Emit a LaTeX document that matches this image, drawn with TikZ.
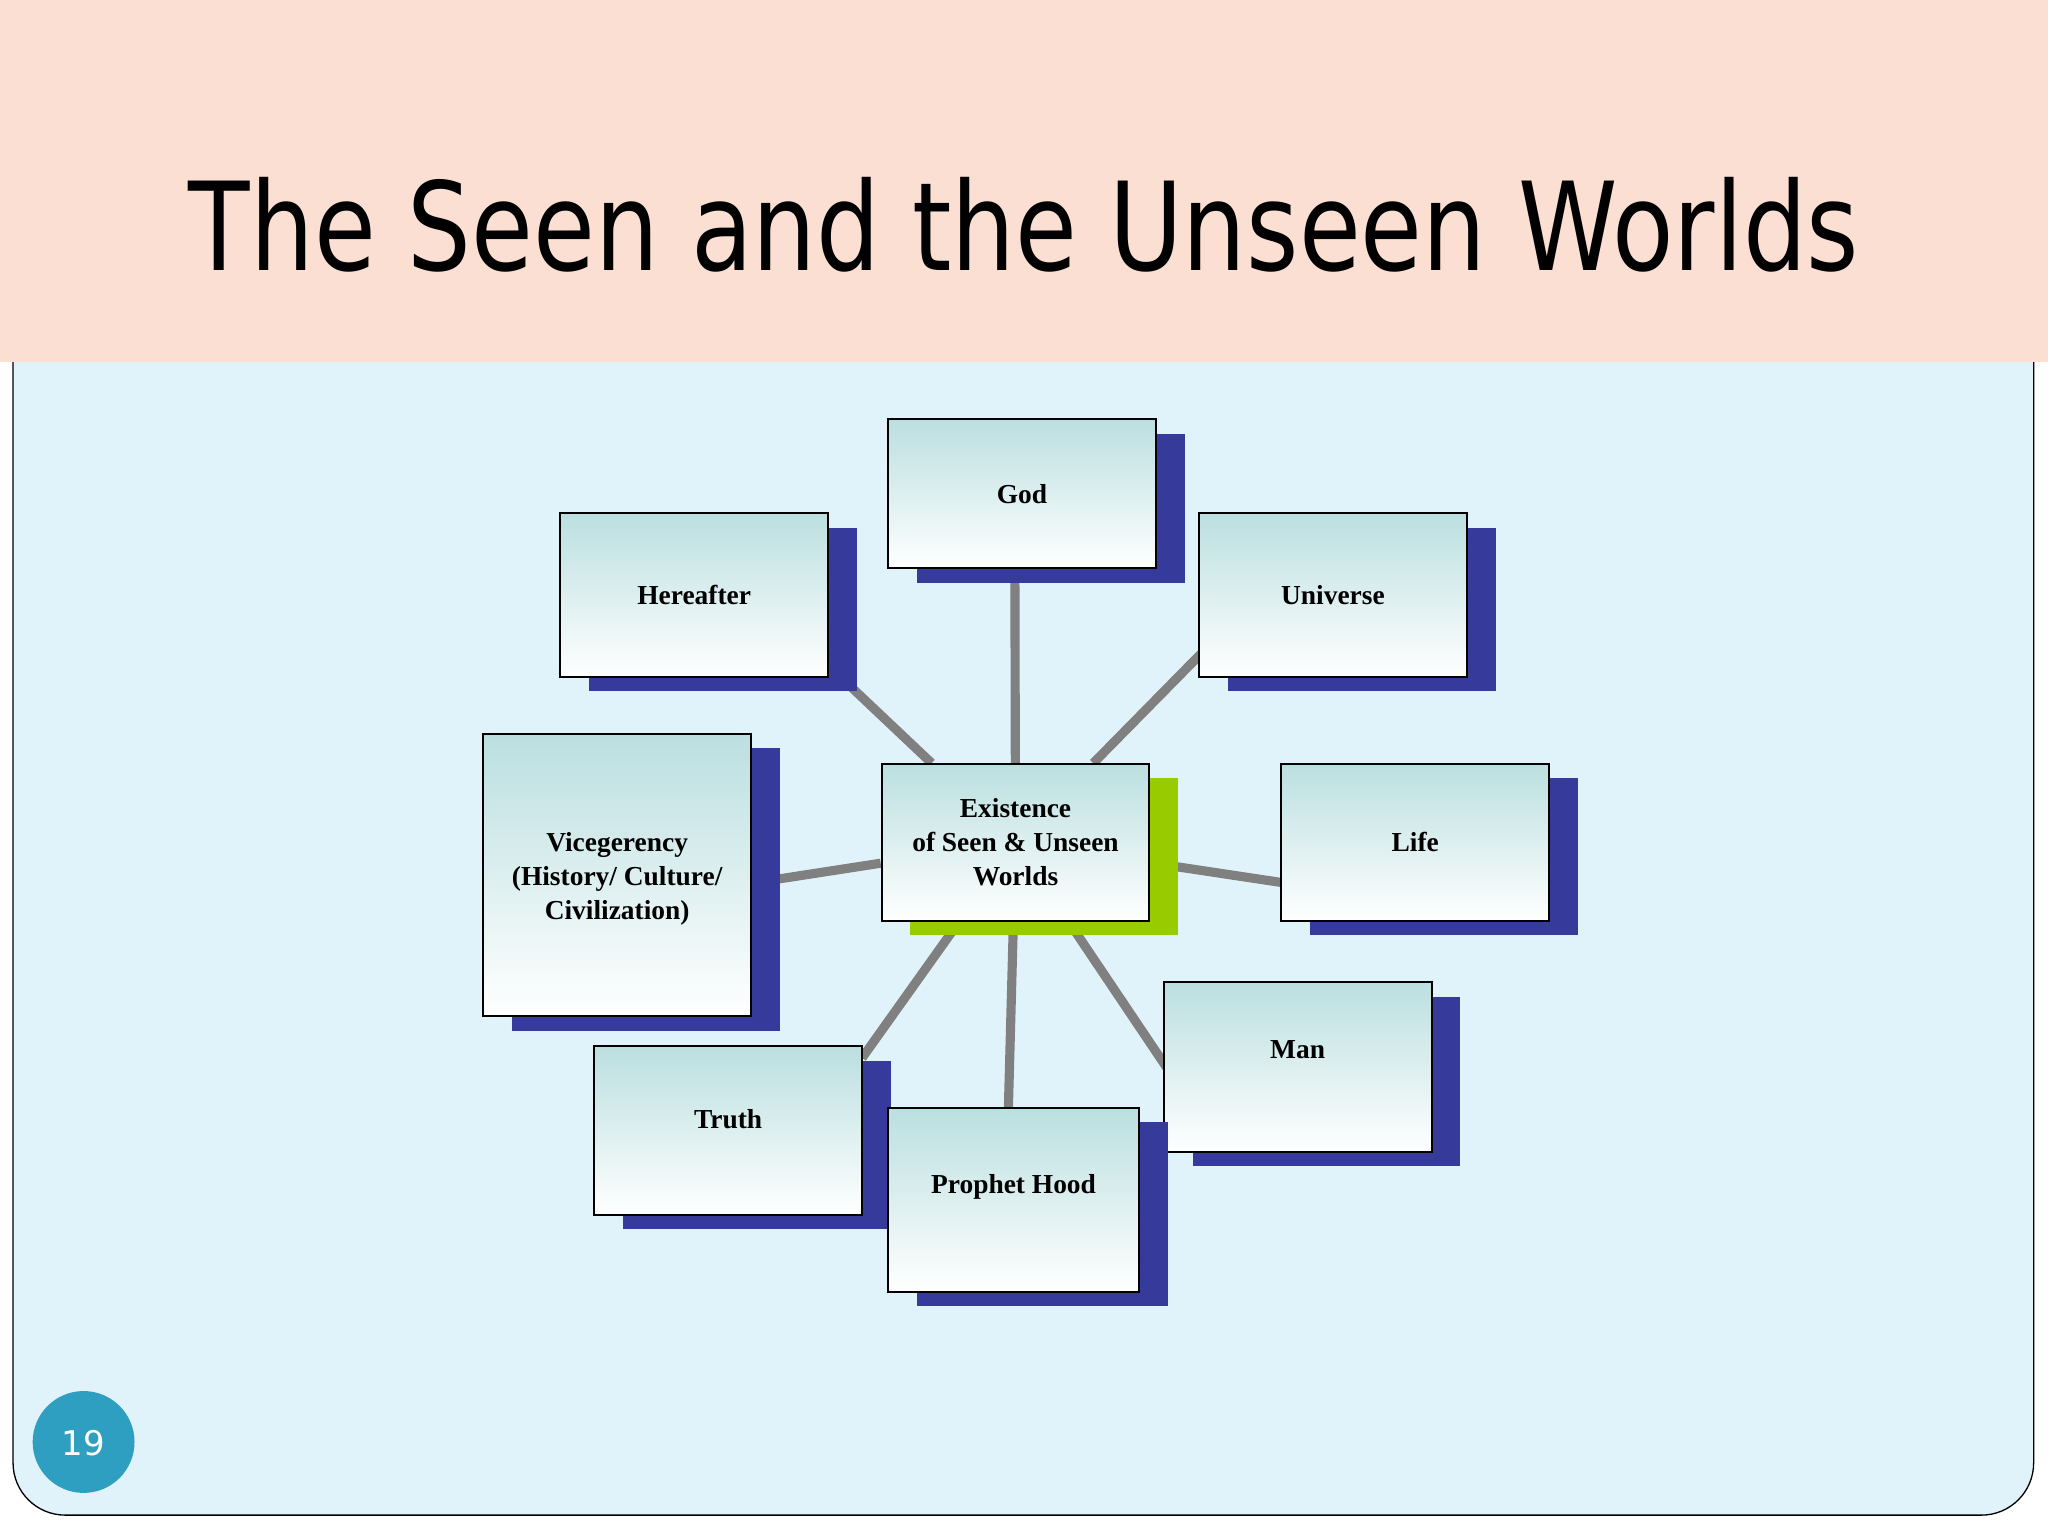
\documentclass[tikz,border=0pt]{standalone}
\usepackage{fontspec}
\setmainfont{Liberation Serif}
\newfontfamily\titlefont{DejaVu Sans}
\usetikzlibrary{shadows,backgrounds,shadings}
\definecolor{peach}{HTML}{FCDFD3}
\definecolor{bodyblue}{HTML}{E0F3FA}
\definecolor{shblue}{HTML}{363A9A}
\definecolor{shgreen}{HTML}{99CC00}
\definecolor{tealc}{HTML}{BBDFE0}
\definecolor{numblue}{HTML}{2E9FC0}
\tikzset{
  boxbase/.style={draw=black, line width=1.5pt, shading=axis, shading angle=-45, top color=tealc, middle color=white, bottom color=white,
    align=center, font=\bfseries\fontsize{21}{26}\selectfont, inner sep=2pt},
  box/.style={boxbase, copy shadow={shadow xshift=22pt, shadow yshift=-11pt, fill=shblue, draw=none}},
  cbox/.style={boxbase, copy shadow={shadow xshift=22pt, shadow yshift=-11pt, fill=shgreen, draw=none}},
  conn/.style={draw=gray, line width=7pt}
}
\begin{document}
\begin{tikzpicture}[x=1pt,y=-1pt]
\useasboundingbox (0,0) rectangle (1568,1176);
\begin{scope}[on background layer]
\fill[white] (0,0) rectangle (1568,1176);
\draw[fill=bodyblue, line width=1pt] (10,250) -- (10,1120) arc[start angle=180,end angle=90,radius=40] -- (1517,1160) arc[start angle=90,end angle=0,radius=40] -- (1557,250);
\fill[peach] (0,0) rectangle (1568,277);
\end{scope}
\node[font=\titlefont\fontsize{77}{80}\selectfont, yscale=1.22] (title) at (784,172) {The Seen and the Unseen Worlds};
\node[cbox, minimum width=205pt, minimum height=120pt] (c) at (777.5,645) {Existence\\of Seen \& Unseen\\Worlds};
\node[box, minimum width=205pt, minimum height=114pt] (god) at (782.5,378) {\raisebox{-14pt}{God}};
\node[box, minimum width=205pt, minimum height=125pt] (here) at (531.5,455.5) {\raisebox{-15pt}{Hereafter}};
\node[box, minimum width=205pt, minimum height=125pt] (uni) at (1020.5,455.5) {\raisebox{-15pt}{Universe}};
\node[box, minimum width=205pt, minimum height=216pt] (vic) at (472.5,670) {\\[-8pt]Vicegerency\\(History/ Culture/\\Civilization)\\[-24pt]};
\node[box, minimum width=205pt, minimum height=120pt] (life) at (1083.5,645) {\raisebox{-14pt}{Life}};
\node[box, minimum width=205pt, minimum height=130pt] (man) at (993.5,817) {\raisebox{27pt}{Man}};
\node[box, minimum width=205pt, minimum height=129pt] (truth) at (557.5,865.5) {\raisebox{18pt}{Truth}};
\node[box, minimum width=192pt, minimum height=141pt] (pro) at (776,918.5) {\raisebox{24pt}{Prophet Hood}};
\begin{scope}[on background layer]
\foreach \n/\p in {god/{(777,430)}, here/{(640,515)}, uni/{(920,500)}, vic/{(570,677)}, life/{(990,677)}, man/{(895,820)}, truth/{(660,810)}, pro/{(772,850)}}
  \draw[conn] (c) -- \p;
\end{scope}
\fill[numblue] (64,1104) circle (39);
\node[text=white, font=\titlefont\fontsize{26}{30}\selectfont] (num) at (64,1105) {19};
\end{tikzpicture}
\end{document}
